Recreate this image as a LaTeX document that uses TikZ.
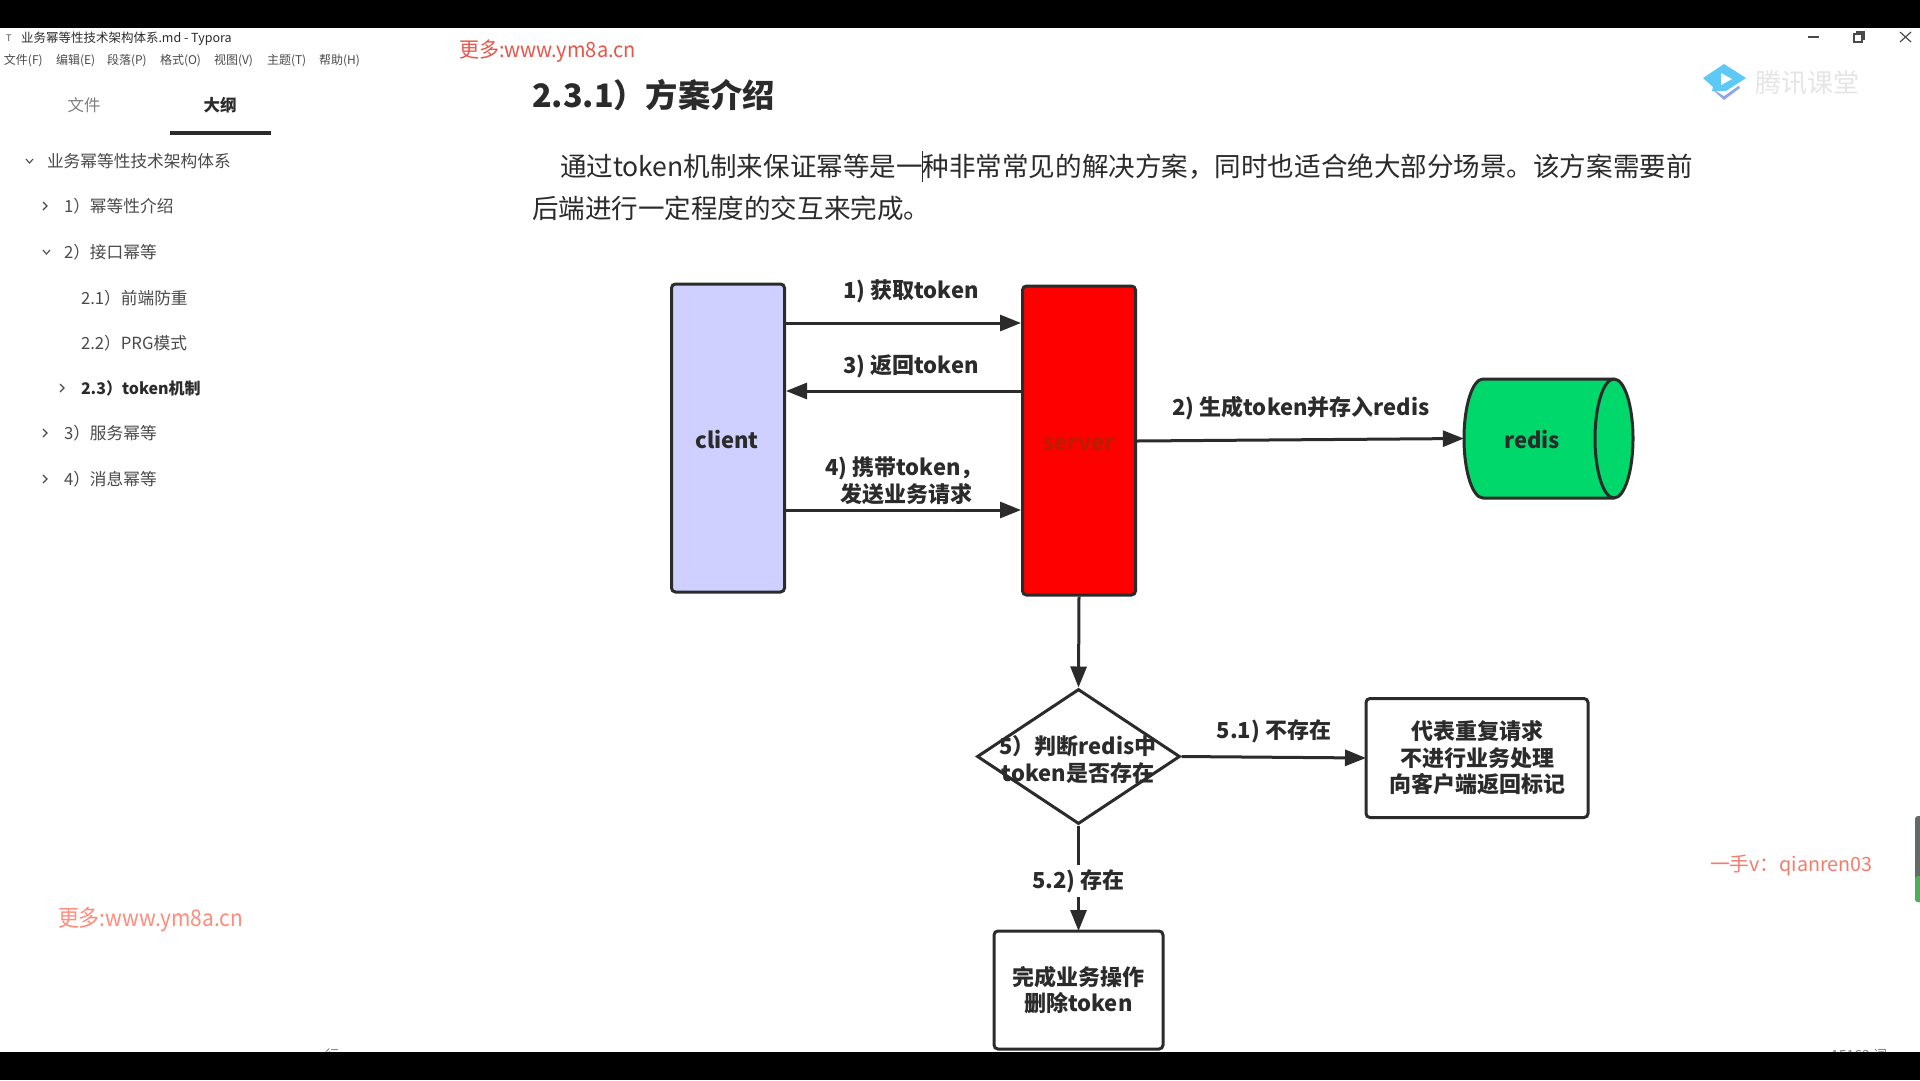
\documentclass[tikz,border=0pt]{standalone}
\usepackage{fontspec}
\setmainfont{Noto Sans CJK SC}
\usetikzlibrary{arrows.meta,shapes.geometric}
\definecolor{ink}{HTML}{2B2B2B}
\definecolor{uitext}{HTML}{4A4A4A}
\definecolor{wmred}{HTML}{E8554A}
\definecolor{wmsalmon}{HTML}{FF8C7C}
\definecolor{wmv}{HTML}{F47C6C}
\definecolor{logoblue}{HTML}{5EC9F6}
\definecolor{logolow}{HTML}{8FA3EE}
\definecolor{clientfill}{HTML}{CFD0FF}
\definecolor{redisfill}{HTML}{00D86C}
\definecolor{serverlab}{HTML}{C01A00}
\definecolor{barmid}{HTML}{666A66}
\definecolor{bargreen}{HTML}{4CAF5A}
\tikzset{
  txt/.style={inner sep=0pt,outer sep=0pt,align=center},
  ltxt/.style={inner sep=0pt,outer sep=0pt,anchor=west},
  lab/.style={txt,font=\fontsize{22}{27}\selectfont\bfseries,text=ink},
  boxs/.style={draw=ink,line width=3pt,rounded corners=4pt,inner sep=0pt},
  conn/.style={draw=ink,line width=3pt,-{Triangle[length=21pt,width=16pt]}},
  outl/.style={ltxt,font=\fontsize{16.7}{20}\selectfont,text=uitext},
  menu/.style={ltxt,font=\fontsize{12}{15}\selectfont,text=uitext},
  chev/.style={draw=uitext,line width=1.1pt},
}
\begin{document}
\begin{tikzpicture}[x=1pt,y=-1pt]
\useasboundingbox (0,0) rectangle (1920,1080);
\fill[white] (0,0) rectangle (1920,1080);

% clipped status texts under the lower bar
\node[ltxt,font=\fontsize{14}{16}\selectfont,text=gray] (stL) at (325,1055) {行};
\node[ltxt,font=\fontsize{14}{16}\selectfont,text=gray] (stR) at (1831,1055) {15162 词};

% bars
\fill[black] (0,0) rectangle (1920,28);
\fill[black] (0,1052) rectangle (1920,1080);

% window
\node[ltxt,font=\fontsize{9}{10}\selectfont,text=uitext] (icon) at (6,38) {T};
\node[ltxt,font=\fontsize{12.5}{15}\selectfont,text=ink] (title) at (21,39) {业务幂等性技术架构体系.md - Typora};
\node[menu] (m1) at (4,61) {文件(F)};
\node[menu] (m2) at (56,61) {编辑(E)};
\node[menu] (m3) at (107,61) {段落(P)};
\node[menu] (m4) at (160,61) {格式(O)};
\node[menu] (m5) at (214,61) {视图(V)};
\node[menu] (m6) at (267,61) {主题(T)};
\node[menu] (m7) at (319,61) {帮助(H)};
\draw[uitext,line width=1.2pt] (1808,37) -- (1819,37);
\draw[uitext,line width=1.2pt] (1854,34) rectangle (1862,42);
\draw[uitext,line width=1.2pt] (1857,34) -- (1857,32) -- (1864,32) -- (1864,39) -- (1862,39);
\draw[uitext,line width=1.2pt] (1900,32) -- (1911,42) (1911,32) -- (1900,42);

% tabs
\node[txt,font=\fontsize{16.5}{20}\selectfont,text=gray] (tab1) at (84,105) {文件};
\node[txt,font=\fontsize{16.5}{20}\selectfont\bfseries,text=ink] (tab2) at (220,105) {大纲};
\fill[ink] (170,131) rectangle (271,135);

% outline
\node[outl] (o0) at (47,161) {业务幂等性技术架构体系};
\node[outl] (o1) at (64,206) {1）幂等性介绍};
\node[outl] (o2) at (64,252) {2）接口幂等};
\node[outl] (o3) at (81,298) {2.1）前端防重};
\node[outl] (o4) at (81,343) {2.2）PRG模式};
\node[outl,font=\fontsize{16}{20}\selectfont\bfseries,text=ink] (o5) at (81,388) {2.3）token机制};
\node[outl] (o6) at (64,433) {3）服务幂等};
\node[outl] (o7) at (64,479) {4）消息幂等};
\draw[chev] (26,159) -- (29.5,163) -- (33,159);
\draw[chev] (43,202) -- (47,206) -- (43,210);
\draw[chev] (43,250) -- (46.5,254) -- (50,250);
\draw[chev] (60,384) -- (64,388) -- (60,392);
\draw[chev] (43,429) -- (47,433) -- (43,437);
\draw[chev] (43,475) -- (47,479) -- (43,483);

% watermarks
\node[ltxt,font=\fontsize{21}{25}\selectfont,text=wmred,xscale=.953] (w1) at (459,51) {更多:www.ym8a.cn};
\node[ltxt,font=\fontsize{23}{27}\selectfont,text=wmsalmon,xscale=.91] (w2) at (58,919) {更多:www.ym8a.cn};
\node[ltxt,font=\fontsize{19.7}{24}\selectfont,text=wmv] (w3) at (1710,865) {一手v：qianren03};

% logo
\fill[logolow] (1713,90) -- (1724,100) -- (1740,88) -- (1736,82) -- cycle;
\fill[white] (1711,88) -- (1724,96) -- (1741,84) -- (1735,80) -- cycle;
\fill[logoblue] (1703,78) -- (1724,64) -- (1746,78) -- (1726,91) -- (1712,91) -- (1713,87) -- cycle;
\fill[white] (1721,73) -- (1732,79) -- (1721,85) -- cycle;
\node[ltxt,font=\fontsize{26}{30}\selectfont,text=black!10] (logotext) at (1755,83) {腾讯课堂};

% scrollbar
\fill[barmid,rounded corners=3pt] (1915,816) rectangle (1925,902);
\begin{scope}
\clip (1915,816) rectangle (1925,902);
\fill[bargreen,rounded corners=3pt] (1915,876) rectangle (1925,902);
\end{scope}

% article text
\node[ltxt,font=\fontsize{32.3}{38}\selectfont\bfseries,text=ink] (h) at (532,95) {2.3.1）方案介绍};
\node[ltxt,font=\fontsize{26.55}{32}\selectfont,text=ink] (p1) at (560,167) {通过token机制来保证幂等是一种非常常见的解决方案，同时也适合绝大部分场景。该方案需要前};
\node[ltxt,font=\fontsize{26.55}{32}\selectfont,text=ink] (p2) at (532,208) {后端进行一定程度的交互来完成。};
\draw[ink,line width=1pt] (922,151) -- (922,182);

% diagram nodes
\node[boxs,fill=clientfill,minimum width=113pt,minimum height=308pt] (client) at (728,438) {};
\node[lab] (clientlab) at (727,440) {client};
\node[boxs,fill=red,minimum width=113pt,minimum height=309pt] (server) at (1079,440.5) {};
\node[lab,text=serverlab] (serverlab) at (1079,444) {server};
\node[inner sep=0pt,minimum width=169pt,minimum height=119pt] (redis) at (1548.5,438.5) {};
\draw[ink,line width=3pt,fill=redisfill]
  (1483,379) -- (1614,379) arc[start angle=90,end angle=-90,x radius=19pt,y radius=59.5pt]
  -- (1483,498) arc[start angle=270,end angle=90,x radius=19pt,y radius=59.5pt] -- cycle;
\draw[ink,line width=3pt] (1614,379) arc[start angle=90,end angle=270,x radius=19pt,y radius=59.5pt];
\node[lab] (redislab) at (1532,440) {redis};
\node[draw=ink,line width=3pt,inner sep=0pt,shape=diamond,aspect=1.5,minimum width=203pt,minimum height=135pt] (dec) at (1078.5,756.5) {};
\node[lab] (dectxt1) at (1078,746) {5）判断redis中};
\node[lab] (dectxt2) at (1078,773) {token是否存在};
\node[boxs,minimum width=222pt,minimum height=119pt,lab,font=\fontsize{22}{26.5}\selectfont\bfseries] (dup) at (1477,758) {代表重复请求\\不进行业务处理\\向客户端返回标记};
\node[boxs,minimum width=169pt,minimum height=118pt,lab,font=\fontsize{22}{26}\selectfont\bfseries] (done) at (1078.5,990) {完成业务操作\\删除token};

% connectors
\coordinate (ya) at (900,323);
\coordinate (yb) at (900,391);
\coordinate (yc) at (900,510);
\draw[conn] (ya -| client.east) -- (ya -| server.west);
\draw[conn] (yb -| server.west) -- (yb -| client.east);
\draw[conn] (yc -| client.east) -- (yc -| server.west);
\draw[conn] (server.east |- 0,441) -- (redis.west |- 0,438.5);
\draw[conn] (server.south) -- (dec.north);
\draw[conn] (dec.east) -- (dup.west);
\draw[conn] (dec.south) -- node[lab,fill=white,inner sep=0pt,pos=.525,minimum height=32pt,minimum width=110pt,text=ink] (l52) {5.2) 存在} (done.north);

% connector labels
\node[lab] (l1) at (911,291) {1) 获取token};
\node[lab] (l3) at (911,366) {3) 返回token};
\node[lab] (l4a) at (904,468) {4) 携带token，};
\node[lab] (l4b) at (906,494) {发送业务请求};
\node[lab] (l2) at (1301,408) {2) 生成token并存入redis};
\node[lab] (l51) at (1274,731) {5.1) 不存在};
\end{tikzpicture}
\end{document}
